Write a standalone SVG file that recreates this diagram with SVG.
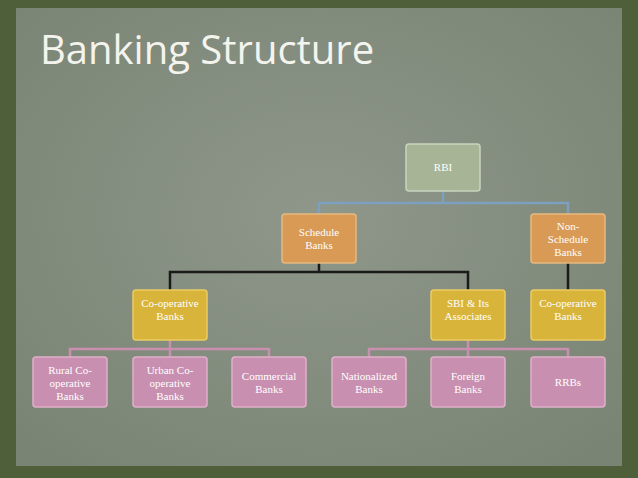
<svg xmlns="http://www.w3.org/2000/svg" width="638" height="478" viewBox="0 0 638 478">
<defs>
<style>
.b{stroke-width:1.5;rx:3}
.g{fill:#a7b596;stroke:#c9d3bd}
.o{fill:#d99a55;stroke:#e8b97f}
.y{fill:#d9b43a;stroke:#eccb62}
.p{fill:#c98fb0;stroke:#dfb0c9}
text{font-family:"Liberation Serif",serif;font-size:11px;fill:#fff;text-anchor:middle}
.c{fill:none;stroke-width:2.5}
</style>
<radialGradient id="bg" cx="0.5" cy="0.45" r="0.7"><stop offset="0" stop-color="#8e978a"/><stop offset="1" stop-color="#7a8474"/></radialGradient>
</defs>
<rect width="638" height="478" fill="#4f5f3a"/>
<rect x="16" y="8" width="606" height="458" fill="url(#bg)"/>
<text x="40" y="64" style="font-family:'Open Sans',sans-serif;font-size:40px;text-anchor:start;fill:#f4f4ee">Banking Structure</text>
<g id="connectors">
<path class="c" stroke="#7ea0c0" d="M443 191V203M319 214V203H568V214"/>
<path class="c" stroke="#1a1a1a" d="M319 263V272M170 290V272H468V290M568 263V290"/>
<path class="c" stroke="#c98fb0" d="M170 340V349M70 357V349H269V357M468 340V349M369 357V349H568V357M170 349V357M468 349V357"/>
</g>
<g id="rbi"><rect class="b g" x="406" y="144" width="74" height="47"/><text x="443" y="171">RBI</text></g>
<g id="schedule"><rect class="b o" x="282" y="214" width="74" height="49"/><text x="319" y="236">Schedule</text><text x="319" y="249">Banks</text></g>
<g id="nonschedule"><rect class="b o" x="531" y="214" width="74" height="49"/><text x="568" y="230">Non-</text><text x="568" y="243">Schedule</text><text x="568" y="256">Banks</text></g>
<g id="coop1"><rect class="b y" x="133" y="290" width="74" height="50"/><text x="170" y="307">Co-operative</text><text x="170" y="320">Banks</text></g>
<g id="sbi"><rect class="b y" x="431" y="290" width="74" height="50"/><text x="468" y="307">SBI &amp; Its</text><text x="468" y="320">Associates</text></g>
<g id="coop2"><rect class="b y" x="531" y="290" width="74" height="50"/><text x="568" y="307">Co-operative</text><text x="568" y="320">Banks</text></g>
<g id="rural"><rect class="b p" x="33" y="357" width="74" height="50"/><text x="70" y="374">Rural Co-</text><text x="70" y="387">operative</text><text x="70" y="400">Banks</text></g>
<g id="urban"><rect class="b p" x="133" y="357" width="74" height="50"/><text x="170" y="374">Urban Co-</text><text x="170" y="387">operative</text><text x="170" y="400">Banks</text></g>
<g id="commercial"><rect class="b p" x="232" y="357" width="74" height="50"/><text x="269" y="380">Commercial</text><text x="269" y="393">Banks</text></g>
<g id="nationalized"><rect class="b p" x="332" y="357" width="74" height="50"/><text x="369" y="380">Nationalized</text><text x="369" y="393">Banks</text></g>
<g id="foreign"><rect class="b p" x="431" y="357" width="74" height="50"/><text x="468" y="380">Foreign</text><text x="468" y="393">Banks</text></g>
<g id="rrbs"><rect class="b p" x="531" y="357" width="74" height="50"/><text x="568" y="386">RRBs</text></g>
</svg>
